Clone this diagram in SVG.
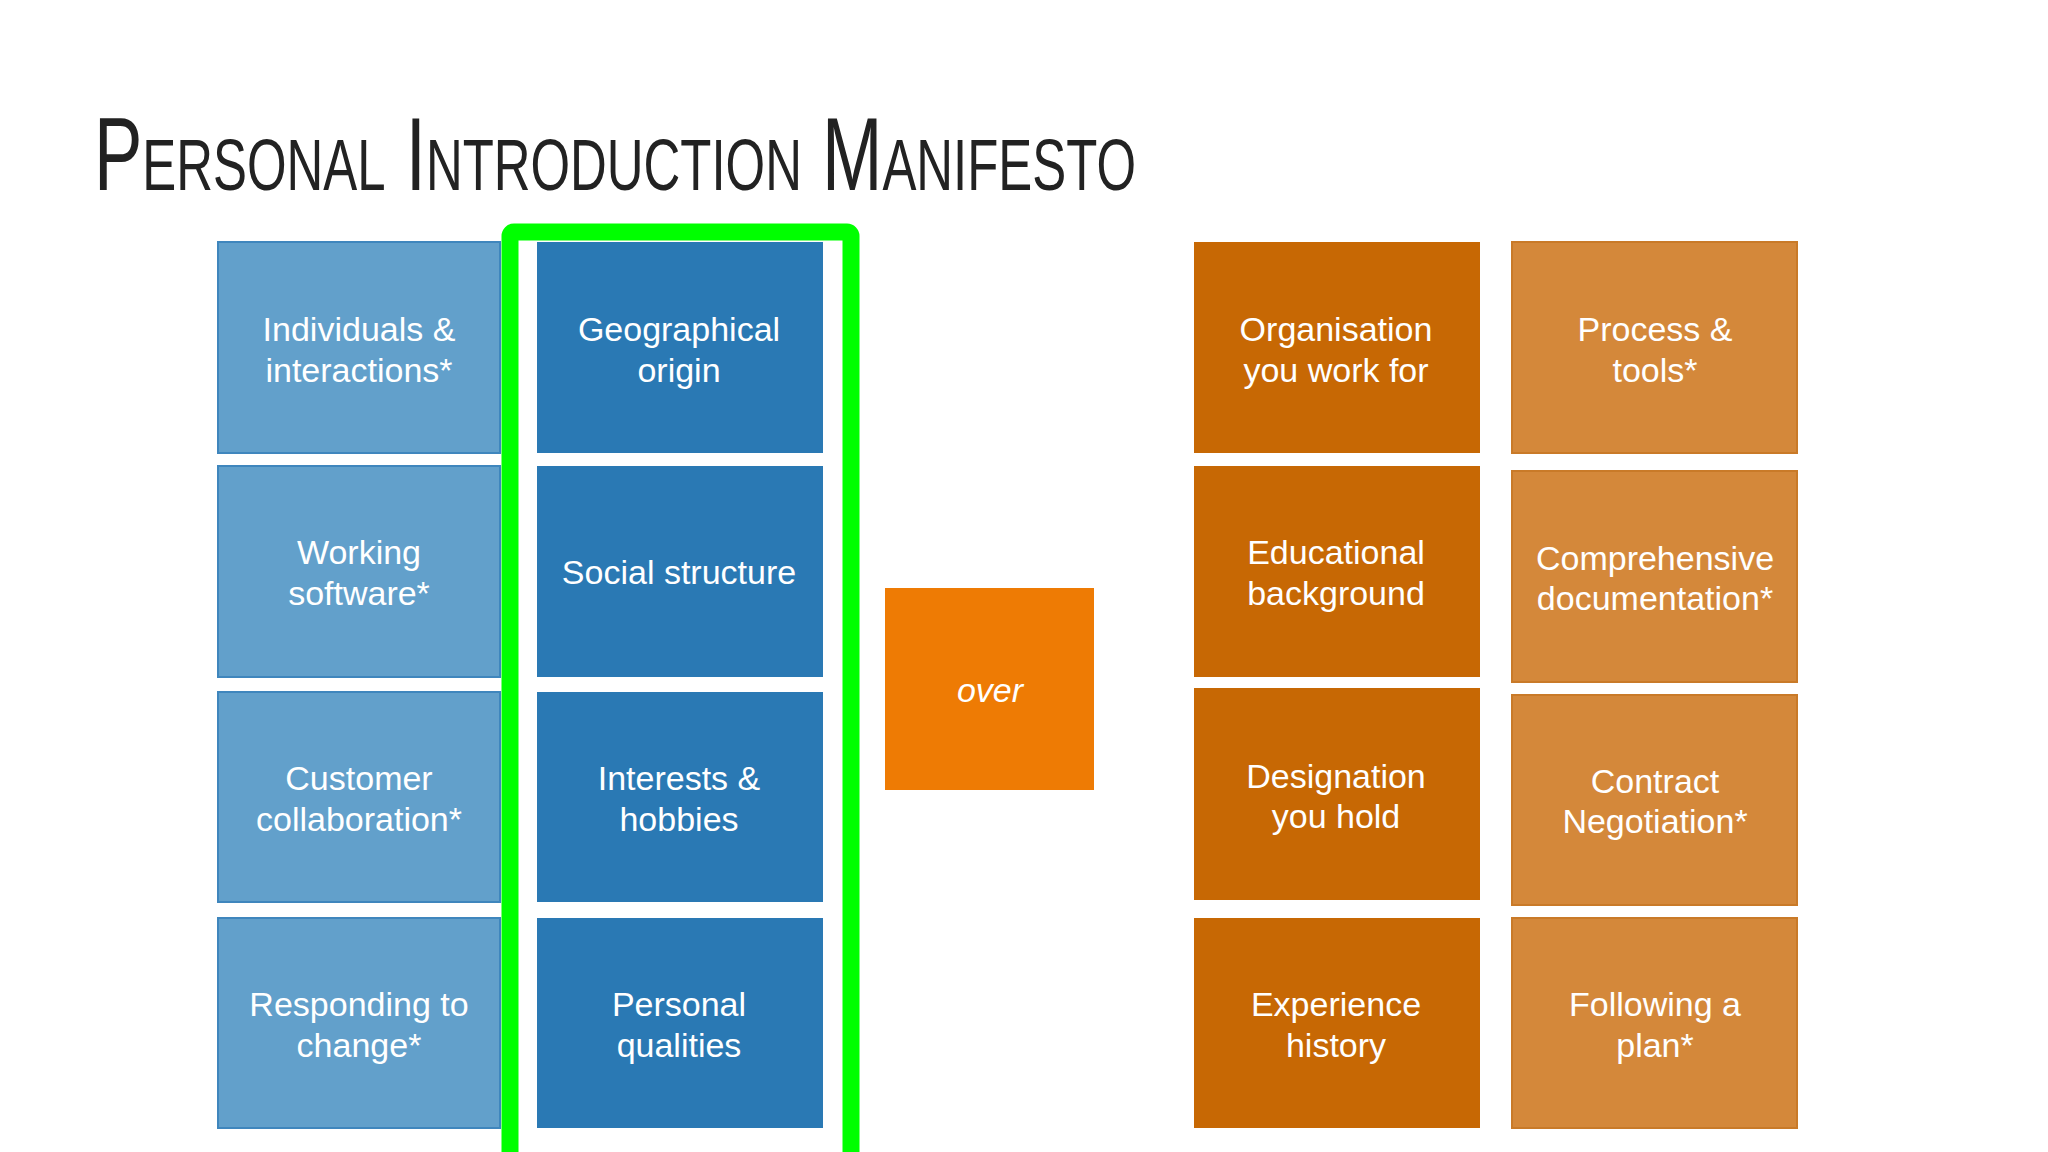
<svg xmlns="http://www.w3.org/2000/svg" width="2048" height="1152" viewBox="0 0 2048 1152">
<style>
.t{font-family:"Liberation Sans",Arial,sans-serif;font-size:34px;fill:#fff;text-anchor:middle}
.lb{fill:#62a0cb;stroke:#3f86bd;stroke-width:2}
.db{fill:#2a79b4}
.do{fill:#c76804}
.lo{fill:#d4883a;stroke:#c97a28;stroke-width:2}
</style>
<rect width="2048" height="1152" fill="#fff"/>
<text x="94" y="190" font-family="Liberation Sans Narrow,Liberation Sans,sans-serif" font-size="104" fill="#222" textLength="1042" lengthAdjust="spacingAndGlyphs" style="font-variant:small-caps">Personal Introduction Manifesto</text>
<g id="n1"><rect class="lb" x="218" y="242" width="282" height="211"/><text class="t" x="359" y="341">Individuals &amp;</text><text class="t" x="359" y="382">interactions*</text></g>
<g id="n2"><rect class="lb" x="218" y="466" width="282" height="211"/><text class="t" x="359" y="564">Working</text><text class="t" x="359" y="605">software*</text></g>
<g id="n3"><rect class="lb" x="218" y="692" width="282" height="210"/><text class="t" x="359" y="790">Customer</text><text class="t" x="359" y="831">collaboration*</text></g>
<g id="n4"><rect class="lb" x="218" y="918" width="282" height="210"/><text class="t" x="359" y="1016">Responding to</text><text class="t" x="359" y="1057">change*</text></g>
<g id="n5"><rect class="db" x="537" y="242" width="286" height="211"/><text class="t" x="679" y="341">Geographical</text><text class="t" x="679" y="382">origin</text></g>
<g id="n6"><rect class="db" x="537" y="466" width="286" height="211"/><text class="t" x="679" y="584">Social structure</text></g>
<g id="n7"><rect class="db" x="537" y="692" width="286" height="210"/><text class="t" x="679" y="790">Interests &amp;</text><text class="t" x="679" y="831">hobbies</text></g>
<g id="n8"><rect class="db" x="537" y="918" width="286" height="210"/><text class="t" x="679" y="1016">Personal</text><text class="t" x="679" y="1057">qualities</text></g>
<g id="hl"><rect x="510" y="232" width="341" height="940" fill="none" stroke="#00ff00" stroke-width="17" rx="4"/></g>
<g id="over"><rect x="885" y="588" width="209" height="202" fill="#ee7b04"/><text class="t" x="990" y="702" font-style="italic">over</text></g>
<g id="n9"><rect class="do" x="1194" y="242" width="286" height="211"/><text class="t" x="1336" y="341">Organisation</text><text class="t" x="1336" y="382">you work for</text></g>
<g id="n10"><rect class="do" x="1194" y="466" width="286" height="211"/><text class="t" x="1336" y="564">Educational</text><text class="t" x="1336" y="605">background</text></g>
<g id="n11"><rect class="do" x="1194" y="688" width="286" height="212"/><text class="t" x="1336" y="788">Designation</text><text class="t" x="1336" y="828">you hold</text></g>
<g id="n12"><rect class="do" x="1194" y="918" width="286" height="210"/><text class="t" x="1336" y="1016">Experience</text><text class="t" x="1336" y="1057">history</text></g>
<g id="n13"><rect class="lo" x="1512" y="242" width="285" height="211"/><text class="t" x="1655" y="341">Process &amp;</text><text class="t" x="1655" y="382">tools*</text></g>
<g id="n14"><rect class="lo" x="1512" y="471" width="285" height="211"/><text class="t" x="1655" y="570">Comprehensive</text><text class="t" x="1655" y="610">documentation*</text></g>
<g id="n15"><rect class="lo" x="1512" y="695" width="285" height="210"/><text class="t" x="1655" y="793">Contract</text><text class="t" x="1655" y="833">Negotiation*</text></g>
<g id="n16"><rect class="lo" x="1512" y="918" width="285" height="210"/><text class="t" x="1655" y="1016">Following a</text><text class="t" x="1655" y="1057">plan*</text></g>
<g id="connectors"/>
</svg>
